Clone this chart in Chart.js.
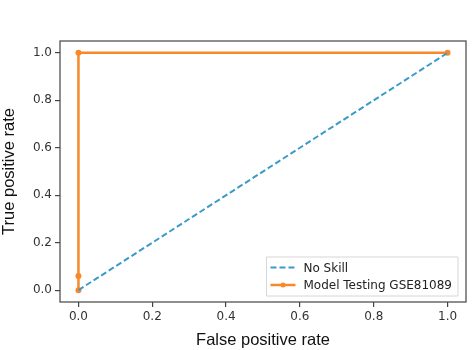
<!DOCTYPE html>
<html>
<head>
<meta charset="utf-8">
<script src="https://cdn.jsdelivr.net/npm/chart.js@4"></script>
<style>
  html, body { margin: 0; padding: 0; background: #fff; }
  #wrap { width: 474px; height: 350px; }
</style>
</head>
<body>
<div id="wrap"><canvas id="roc" width="474" height="350"></canvas></div>
<script>
// ROC curve data
const noSkillFpr = [0, 1];
const noSkillTpr = [0, 1];
const modelFpr = [0, 0, 0, 1];
const modelTpr = [0, 0.06, 1, 1];
const tickValues = [0, 0.2, 0.4, 0.6, 0.8, 1.0];
const seriesNames = ['No Skill', 'Model Testing GSE81089'];

const BLUE = '#3a9bc9';
const ORANGE = '#f7892b';
const TICK_FONT = { family: 'DejaVu Sans', size: 12 };
const TITLE_FONT = { family: 'Liberation Sans', size: 16.5 };

function toPoints(xs, ys) {
  return xs.map((x, i) => ({ x: x, y: ys[i] }));
}

// matplotlib-style frame + legend inside the axes
const framePlugin = {
  id: 'frame',
  afterDraw(chart) {
    const ctx = chart.ctx;
    const a = chart.chartArea;
    ctx.save();
    ctx.strokeStyle = '#444';
    ctx.lineWidth = 1.2;
    ctx.strokeRect(a.left, a.top, a.right - a.left, a.bottom - a.top);

    ctx.font = '12px "DejaVu Sans"';
    const textW = Math.max(...seriesNames.map(n => ctx.measureText(n).width));
    const boxW = 37 + textW + 6;
    const boxH = 39;
    const bx = a.right - 8 - boxW;
    const by = a.bottom - 6 - boxH;
    ctx.fillStyle = 'rgba(255,255,255,0.85)';
    ctx.strokeStyle = '#d6d6d6';
    ctx.lineWidth = 1;
    ctx.beginPath();
    ctx.rect(bx, by, boxW, boxH);
    ctx.fill();
    ctx.stroke();

    const rows = [by + 10.5, by + 28];
    // No Skill sample
    ctx.strokeStyle = BLUE;
    ctx.lineWidth = 2;
    ctx.setLineDash([6, 3]);
    ctx.beginPath();
    ctx.moveTo(bx + 4, rows[0]);
    ctx.lineTo(bx + 29, rows[0]);
    ctx.stroke();
    ctx.setLineDash([]);
    // Model sample
    ctx.strokeStyle = ORANGE;
    ctx.lineWidth = 2.5;
    ctx.beginPath();
    ctx.moveTo(bx + 4, rows[1]);
    ctx.lineTo(bx + 29, rows[1]);
    ctx.stroke();
    ctx.fillStyle = ORANGE;
    ctx.beginPath();
    ctx.arc(bx + 16.5, rows[1], 2.5, 0, Math.PI * 2);
    ctx.fill();

    ctx.fillStyle = '#222';
    ctx.textBaseline = 'middle';
    ctx.textAlign = 'left';
    seriesNames.forEach((n, i) => ctx.fillText(n, bx + 37, rows[i] + 1));
    ctx.restore();
  }
};

const ctx = document.getElementById('roc').getContext('2d');
new Chart(ctx, {
  type: 'scatter',
  data: {
    datasets: [{
      label: seriesNames[0],
      data: toPoints(noSkillFpr, noSkillTpr),
      showLine: true,
      borderColor: BLUE,
      borderWidth: 2,
      borderDash: [6, 3],
      pointRadius: 0
    }, {
      label: seriesNames[1],
      data: toPoints(modelFpr, modelTpr),
      showLine: true,
      borderColor: ORANGE,
      backgroundColor: ORANGE,
      borderWidth: 2.5,
      pointRadius: 3,
      pointBorderWidth: 0
    }]
  },
  options: {
    responsive: false,
    animation: false,
    layout: { padding: { top: 41, right: 8, left: 0, bottom: 0 } },
    plugins: {
      legend: { display: false },
      tooltip: { enabled: false }
    },
    scales: {
      x: {
        type: 'linear',
        min: -0.05,
        max: 1.05,
        afterBuildTicks: s => { s.ticks = tickValues.map(v => ({ value: v })); },
        afterFit: s => { s.height = 48; },
        grid: { drawOnChartArea: false, drawTicks: true, tickLength: 5, color: '#444', lineWidth: 1.2 },
        border: { display: false },
        ticks: { font: TICK_FONT, color: '#333', padding: 3, maxRotation: 0, callback: v => v.toFixed(1) },
        title: { display: true, text: 'False positive rate', font: TITLE_FONT, color: '#111', padding: { top: 6, bottom: 0 } }
      },
      y: {
        type: 'linear',
        min: -0.05,
        max: 1.05,
        afterBuildTicks: s => { s.ticks = tickValues.map(v => ({ value: v })); },
        afterFit: s => { s.width = 60; },
        grid: { drawOnChartArea: false, drawTicks: true, tickLength: 5, color: '#444', lineWidth: 1.2 },
        border: { display: false },
        ticks: { font: TICK_FONT, color: '#333', padding: 3, callback: v => v.toFixed(1) },
        title: { display: true, text: 'True positive rate', font: TITLE_FONT, color: '#111', padding: { top: 0, bottom: 0 } }
      }
    }
  },
  plugins: [framePlugin]
});
</script>
</body>
</html>
